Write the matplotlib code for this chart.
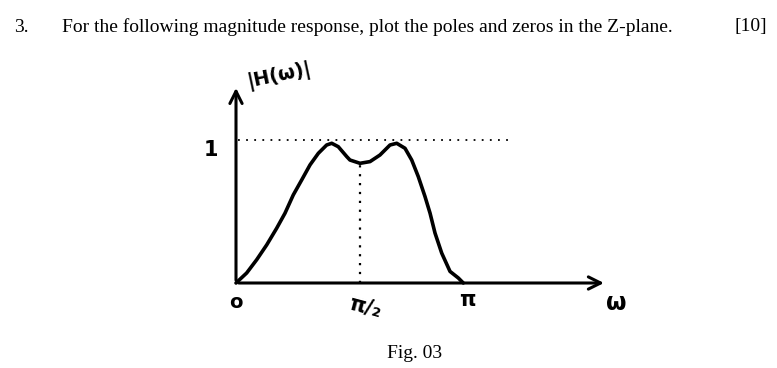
import matplotlib
matplotlib.use("Agg")
import matplotlib.pyplot as plt

# sketch of |H(w)|, x in units where pi/2 -> 1.0 (as drawn)
w = [0.0, 0.086, 0.167, 0.248, 0.328, 0.395, 0.462, 0.530, 0.597, 0.664,
     0.731, 0.772, 0.825, 0.893, 0.919, 1.0, 1.081, 1.161, 1.242, 1.296,
     1.363, 1.417, 1.470, 1.524, 1.565, 1.605, 1.659, 1.726, 1.793, 1.833]
mag = [0.0, 0.07, 0.163, 0.267, 0.383, 0.488, 0.616, 0.721, 0.826, 0.907,
       0.965, 0.977, 0.953, 0.884, 0.860, 0.837, 0.849, 0.895, 0.965, 0.977,
       0.942, 0.860, 0.744, 0.605, 0.488, 0.349, 0.209, 0.081, 0.035, 0.0]

tick_pos = [0.0, 1.04, 1.863]
tick_y = [-0.137, -0.17, -0.117]
tick_lbl = ["o", "π/₂", "π"]
level = 1.0
level_end = 2.23
pi_half = 1.0

question = "For the following magnitude response, plot the poles and zeros in the Z-plane."

fig = plt.figure(figsize=(7.77, 3.68), dpi=100)
serif = ["Liberation Serif", "DejaVu Serif"]
fig.text(14 / 777, 1 - 27 / 368, "3.", family=serif, fontsize=14, va="center")
fig.text(62 / 777, 1 - 27 / 368, question, family=serif, fontsize=14, va="center")
fig.text(734 / 777, 1 - 27 / 368, "[10]", family=serif, fontsize=14, va="center")
fig.text(415 / 777, 1 - 353 / 368, "Fig. 03", family=serif, fontsize=14,
         va="center", ha="center")

ax = fig.add_axes([236 / 777, (368 - 283) / 368, 374 / 777, 203 / 368])
ax.set_xlim(0, 374 / 124)
ax.set_ylim(0, 203 / 143)
ax.axis("off")

# axes with arrows
arr = dict(arrowstyle="->", lw=2.2, color="black", mutation_scale=22)
ax.annotate("", xy=(2.99, 0), xytext=(0, 0), arrowprops=arr, annotation_clip=False)
ax.annotate("", xy=(0, 1.384), xytext=(0, 0), arrowprops=arr, annotation_clip=False)

ax.plot([0.02, level_end], [level, level], ls=(0, (1, 3.5)), color="black", lw=1.3)
ax.plot([pi_half, pi_half], [0, 0.83], ls=(0, (1, 3)), color="black", lw=1.6)
ax.plot(w, mag, color="black", lw=2.6, solid_capstyle="round",
        solid_joinstyle="round", clip_on=False)

hand = dict(family="DejaVu Sans", fontweight="bold", color="black")
ax.text(tick_pos[0], tick_y[0], tick_lbl[0], ha="center", va="center", fontsize=14, **hand)
ax.text(tick_pos[1], tick_y[1], tick_lbl[1], ha="center", va="center", fontsize=15,
        rotation=-15, **hand)
ax.text(tick_pos[2], tick_y[2], tick_lbl[2], ha="center", va="center", fontsize=15, **hand)
ax.text(-0.2, 0.93, "1", ha="center", va="center", fontsize=15, **hand)
ax.text(3.07, -0.137, "ω", ha="center", va="center", fontsize=17, **hand)
ax.text(0.347, 1.454, "|H(ω)|", ha="center", va="center", fontsize=14,
        rotation=12, clip_on=False, **hand)

fig.savefig("out.png", dpi=100)
